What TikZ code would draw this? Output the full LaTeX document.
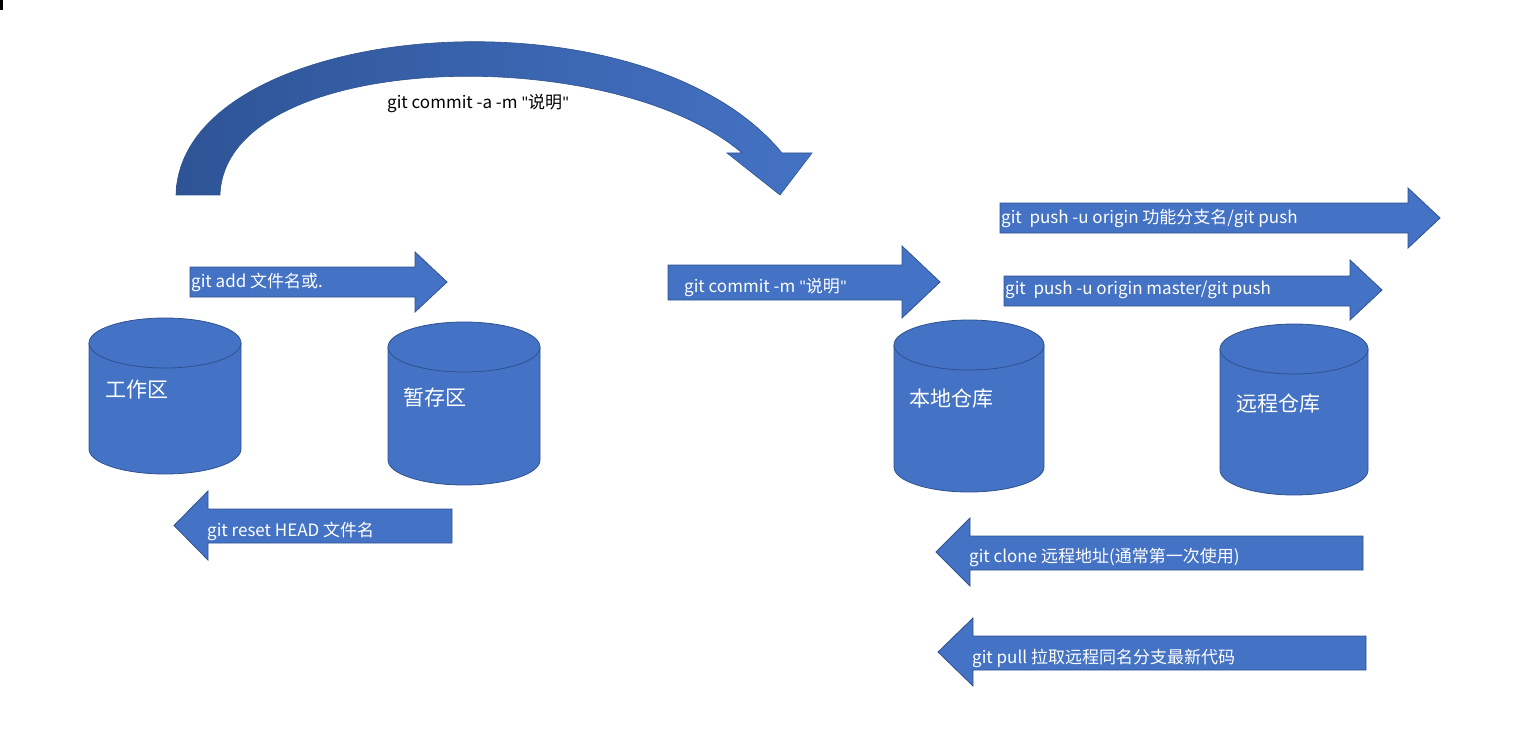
\documentclass[tikz,border=0pt]{standalone}
\usepackage{fontspec}
\setmainfont{Noto Sans CJK SC}
\newfontfamily\latq{Carlito}
\newcommand{\qt}{{\latq\symbol{34}}}
\begin{document}
\begin{tikzpicture}[x=1pt,y=-1pt]
\definecolor{bl}{HTML}{4472C4}
\definecolor{bd}{HTML}{2F528F}
\definecolor{bdark}{HTML}{2E5496}
\tikzset{blk/.style={fill=bl,draw=bd,line width=0.8pt},
 lab/.style={text=white,font=\fontsize{17}{19}\selectfont,anchor=west,inner sep=0},
 clab/.style={text=white,font=\fontsize{21}{23}\selectfont,anchor=west,inner sep=0}}
\useasboundingbox (0,0) rectangle (1514,730);
\fill[black] (0,0) rectangle (3,10);
% cylinders
\newcommand{\mycyl}[5]{%
 \path[blk] (#1,#3) -- (#1,#4) arc[start angle=180,end angle=0,x radius={(#2-#1)/2},y radius=25] -- (#2,#3) -- cycle;
 \path[blk] ({(#1+#2)/2},#3) ellipse[x radius={(#2-#1)/2},y radius=25];
 \node (#5) at ({(#1+#2)/2},{(#3+#4)/2}) {};}
\mycyl{89}{241}{343}{449}{c1}
\mycyl{388}{540}{347}{460}{c2}
\mycyl{894}{1044}{345}{467}{c3}
\mycyl{1220}{1368}{349}{470}{c4}
\node[clab] at (105,390) {工作区};
\node[clab] at (403,397) {暂存区};
\node[clab] at (909,399) {本地仓库};
\node[clab] at (1236,404) {远程仓库};
\newcommand{\rarr}[7]{\path[blk] (#1,#4) -- (#2,#4) -- (#2,#6) -- (#3,{(#6+#7)/2}) -- (#2,#7) -- (#2,#5) -- (#1,#5) -- cycle;}
\rarr{190}{415}{447}{267}{297}{252}{312}
\node[lab] (a1) at (191,282) {git add 文件名或.};
\rarr{668}{902}{940}{265}{300}{246}{318}
\node[lab] (a2) at (684,287) {git commit -m \qt{}说明\qt{}};
\rarr{1000}{1408}{1440}{203}{233}{188}{248}
\node[lab] (a3) at (1001,218) {git\ \ push -u origin 功能分支名/git push};
\rarr{1004}{1350}{1382}{276}{306}{260}{320}
\node[lab] (a4) at (1005,290) {git\ \ push -u origin master/git push};
\rarr{452}{208}{174}{509}{543}{491}{560}
\node[lab] (a5) at (207,531) {git reset HEAD 文件名};
\rarr{1363}{970}{936}{536}{570}{518}{586}
\node[lab] (a6) at (969,557) {git clone 远程地址(通常第一次使用)};
\rarr{1366}{973}{938}{636}{670}{618}{686}
\node[lab] (a7) at (972,658) {git pull 拉取远程同名分支最新代码};
% curved arrow
\path[left color=bdark,right color=bl,draw=bd,line width=0.6pt]
 (176,195) .. controls (180,20) and (640,-20) .. (782,153)
 -- (812,153) -- (780,195) -- (727,153) -- (742,153)
 .. controls (610,40) and (225,50) .. (220,195) -- cycle;
\node[anchor=west,inner sep=0,font=\fontsize{17}{19}\selectfont] (a8) at (387,103) {git commit -a -m \qt{}说明\qt{}};
\end{tikzpicture}
\end{document}
